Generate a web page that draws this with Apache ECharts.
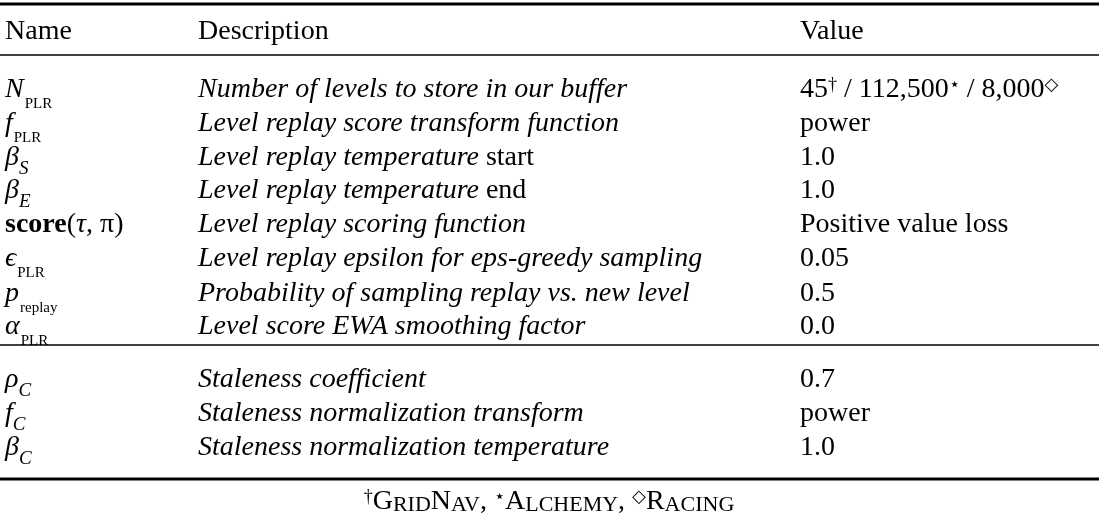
<!DOCTYPE html>
<html><head><meta charset="utf-8">
<script src="https://cdn.jsdelivr.net/npm/echarts@6/dist/echarts.min.js"></script>
<style>html,body{margin:0;background:#fff}#main{width:1099px;height:516px}</style>
</head><body><div id="main"></div>
<script>
var headers = ['Name', 'Description', 'Value'];
// rich-text names: {i|...} italic, {s|...} subscript, {b|...} bold
var names1 = ['{i|N}{s|PLR}', '{i|f}{s|PLR}', '{i|β}{si|S}', '{i|β}{si|E}', '{b|score}{r|(}{i|τ}{r|, π)}',
  '{i|ϵ}{s|PLR}', '{i|p}{s|replay}', '{i|α}{s|PLR}'];
var descs1 = ['{i|Number of levels to store in our buffer}', '{i|Level replay score transform function}',
  '{i|Level replay temperature}{r| start}', '{i|Level replay temperature}{r| end}',
  '{i|Level replay scoring function}', '{i|Level replay epsilon for eps-greedy sampling}',
  '{i|Probability of sampling replay vs. new level}', '{i|Level score EWA smoothing factor}'];
var values1 = ['{r|45}{u|†}{r| / 112,500}{u|⋆}{r| / 8,000}{u|◇}', 'power', '1.0', '1.0', 'Positive value loss', '0.05', '0.5', '0.0'];
var names2 = ['{i|ρ}{si|C}', '{i|f}{si|C}', '{i|β}{si|C}'];
var descs2 = ['{i|Staleness coefficient}', '{i|Staleness normalization transform}', '{i|Staleness normalization temperature}'];
var values2 = ['0.7', 'power', '1.0'];
var footnote = '{u|†}{r|G}{c|RID}{r|N}{c|AV}{r|, }{u|⋆}{r|A}{c|LCHEMY}{r|, }{u|◇}{r|R}{c|ACING}';

var F = '"Liberation Serif", "DejaVu Serif", serif';
var rich = {
  r: {fontFamily: F, fontSize: 28, lineHeight: 32, verticalAlign: 'bottom'},
  i: {fontFamily: F, fontSize: 28, fontStyle: 'italic', lineHeight: 32, verticalAlign: 'bottom'},
  b: {fontFamily: F, fontSize: 28, fontWeight: 'bold', lineHeight: 32, verticalAlign: 'bottom'},
  s: {fontFamily: F, fontSize: 15, lineHeight: 32, verticalAlign: 'bottom', padding: [0, 0, -8, 1]},
  si: {fontFamily: F, fontSize: 19, fontStyle: 'italic', lineHeight: 32, verticalAlign: 'bottom', padding: [0, 0, -6, 0]},
  u: {fontFamily: F, fontSize: 18, lineHeight: 32, verticalAlign: 'bottom', padding: [0, 0, 10, 0]},
  c: {fontFamily: F, fontSize: 22, lineHeight: 32, verticalAlign: 'bottom'}
};
var cols = [5, 198, 800];
var els = [];
function txt(x, y, s) {
  if (s.indexOf('{') < 0) s = '{r|' + s + '}';
  els.push({type: 'text', x: x, y: y, style: {text: s, rich: rich, fill: '#000', verticalAlign: 'middle'}});
}
function rule(y, w) {
  els.push({type: 'line', shape: {x1: 0, y1: y, x2: 1099, y2: y}, style: {stroke: '#000', lineWidth: w}});
}
rule(4, 3);
headers.forEach(function (h, k) { txt(cols[k], 30, h); });
rule(55, 1.5);
var y1 = [88, 122, 156, 189, 223, 257, 292, 325];
names1.forEach(function (n, k) {
  txt(cols[0], y1[k], n); txt(cols[1], y1[k], descs1[k]); txt(cols[2], y1[k], values1[k]);
});
rule(345, 1.5);
var y2 = [378, 412, 446];
names2.forEach(function (n, k) {
  txt(cols[0], y2[k], n); txt(cols[1], y2[k], descs2[k]); txt(cols[2], y2[k], values2[k]);
});
rule(479, 3);
els.push({type: 'text', x: 549, y: 500, style: {text: footnote, rich: rich, fill: '#000', align: 'center', verticalAlign: 'middle'}});

var myChart = echarts.init(document.getElementById('main'));
myChart.setOption({backgroundColor: '#fff', graphic: {elements: els}});
</script>
</body></html>
